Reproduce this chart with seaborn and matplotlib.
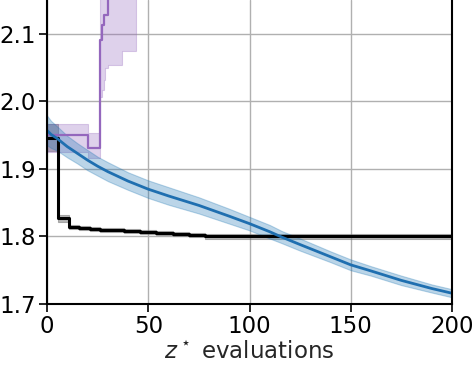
import numpy as np
import matplotlib
matplotlib.use("Agg")
import matplotlib.pyplot as plt
import seaborn as sns

# smooth (blue) run: mean and half-width of band
blue_x = [0, 2, 5, 10, 15, 20, 25, 30, 40, 50, 60, 75, 90, 100, 110, 116, 125, 140, 150, 160, 175, 190, 200]
blue_y = [1.957, 1.951, 1.945, 1.933, 1.923, 1.913, 1.904, 1.896, 1.882, 1.870, 1.860, 1.846, 1.830,
          1.819, 1.807, 1.799, 1.788, 1.770, 1.758, 1.749, 1.735, 1.723, 1.716]
blue_err = [0.022, 0.020, 0.018, 0.016, 0.015, 0.015, 0.014, 0.014, 0.013, 0.013, 0.013, 0.012, 0.011,
            0.010, 0.010, 0.009, 0.009, 0.008, 0.008, 0.007, 0.007, 0.006, 0.006]

# black step run
black_x = [0, 5.5, 11, 16, 21, 26, 31, 38, 46, 54, 62, 70, 78, 200]
black_y = [1.946, 1.827, 1.814, 1.812, 1.811, 1.810, 1.809, 1.808, 1.807, 1.805, 1.804, 1.802, 1.800, 1.800]
black_err = [0.020, 0.005, 0.003, 0.003, 0.003, 0.003, 0.003, 0.003, 0.003, 0.003, 0.003, 0.003, 0.004, 0.004]

# purple step run (leaves the plot above 2.15)
purple_x = [0, 20, 26.2, 27, 28.1, 28.6, 30.3, 36.9, 44]
purple_y = [1.950, 1.931, 2.091, 2.113, 2.128, 2.128, 2.300, 2.300, 2.300]
purple_lo = [1.925, 1.916, 2.007, 2.017, 2.032, 2.049, 2.054, 2.074, 2.074]
purple_hi = [1.967, 1.953, 2.400, 2.400, 2.400, 2.400, 2.400, 2.400, 2.400]

sns.set_style("ticks", {"axes.grid": True, "grid.color": "#b0b0b0", "axes.edgecolor": "black"})
plt.rcParams["font.family"] = ["DejaVu Sans"]
plt.rcParams["mathtext.fontset"] = "dejavusans"

fig = plt.figure(figsize=(4.74, 3.65), dpi=100)
ax = fig.add_axes([0.0992, 0.167, 0.8544, 0.833])

# black
lo = np.array(black_y) - np.array(black_err)
hi = np.array(black_y) + np.array(black_err)
ax.fill_between(black_x, lo, hi, step="post", color="#707070", alpha=0.5, lw=0.8)
sns.lineplot(x=black_x, y=black_y, drawstyle="steps-post", color="black", lw=2.2, ax=ax)

# purple
ax.fill_between(purple_x, purple_lo, purple_hi, step="post", color="#9467bd", alpha=0.3, lw=0.8)
sns.lineplot(x=purple_x, y=purple_y, drawstyle="steps-post", color="#9467bd", lw=1.6, ax=ax)

# blue
lo = np.array(blue_y) - np.array(blue_err)
hi = np.array(blue_y) + np.array(blue_err)
ax.fill_between(blue_x, lo, hi, color="#1f77b4", alpha=0.3, lw=0.8)
sns.lineplot(x=blue_x, y=blue_y, color="#1f6fb0", lw=2.0, ax=ax)

ax.set_xlim(0, 200)
ax.set_ylim(1.7, 2.15)
ax.set_xticks([0, 50, 100, 150, 200])
ax.set_yticks([1.7, 1.8, 1.9, 2.0, 2.1])
ax.grid(True, color="#b0b0b0", lw=1.0)
ax.spines["top"].set_visible(False)
for s in ["left", "bottom", "right"]:
    ax.spines[s].set_linewidth(1.5)
ax.tick_params(labelsize=16.5, length=6, width=1.2, colors="black", pad=2)
ax.set_xlabel(r"$z^\star$ evaluations", fontsize=16.5, labelpad=1)
ax.set_ylabel("")

fig.savefig("out.png", dpi=100)
